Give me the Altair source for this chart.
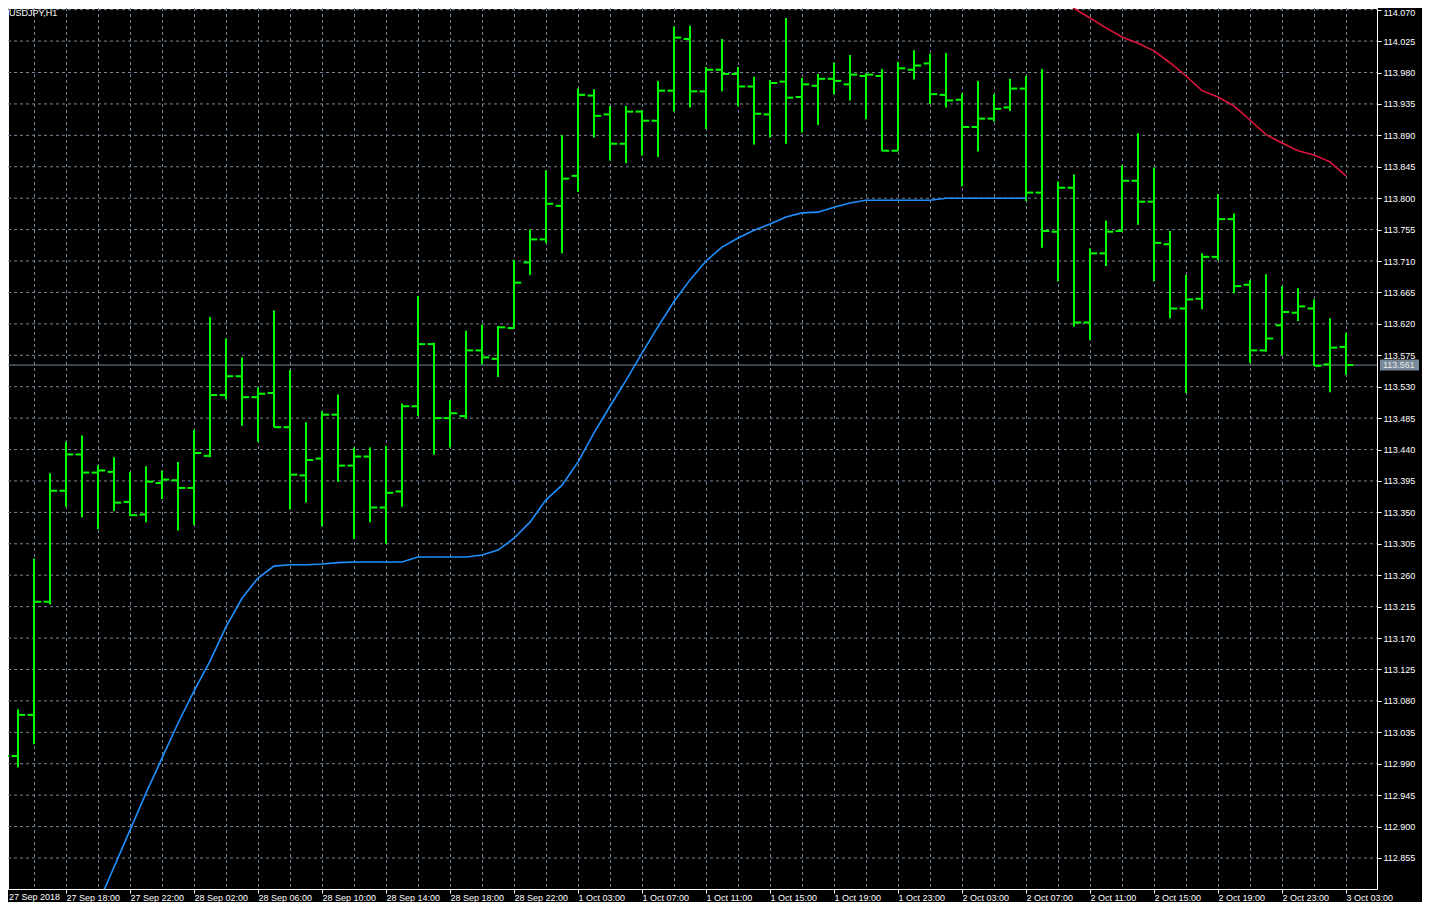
import altair as alt
import pandas as pd

# ---------------- data ----------------
bar_index = list(range(85))
opens = [112.995, 113.001, 113.060, 113.222, 113.381, 113.433, 113.407, 113.408, 113.365, 113.347,
         113.392, 113.396, 113.385, 113.431, 113.518, 113.545, 113.515, 113.521, 113.472, 113.403,
         113.427, 113.490, 113.417, 113.430, 113.357, 113.380, 113.502, 113.591, 113.485, 113.488,
         113.582, 113.570, 113.614, 113.708, 113.741, 113.789, 113.832, 113.947, 113.920, 113.878,
         113.924, 113.911, 113.954, 114.028, 113.953, 113.984, 113.978, 113.960, 113.920, 113.967,
         113.945, 113.961, 113.971, 113.963, 113.975, 113.975, 113.868, 113.984, 113.993, 113.948,
         113.941, 113.902, 113.914, 113.930, 113.957, 113.808, 113.752, 113.815, 113.622, 113.721,
         113.753, 113.825, 113.795, 113.734, 113.642, 113.656, 113.716, 113.770, 113.676, 113.582,
         113.618, 113.636, 113.642, 113.562, 113.587]
highs = [113.010, 113.068, 113.284, 113.406, 113.451, 113.460, 113.417, 113.429, 113.408, 113.416,
         113.410, 113.422, 113.468, 113.630, 113.599, 113.572, 113.529, 113.639, 113.554, 113.479,
         113.495, 113.519, 113.443, 113.443, 113.445, 113.506, 113.660, 113.593, 113.511, 113.610,
         113.619, 113.617, 113.712, 113.755, 113.840, 113.890, 113.957, 113.956, 113.932, 113.932,
         113.926, 113.968, 114.046, 114.047, 113.988, 114.028, 113.988, 113.974, 113.969, 114.058,
         113.972, 113.978, 113.994, 114.005, 113.979, 113.985, 113.995, 114.012, 114.007, 114.008,
         113.950, 113.968, 113.949, 113.971, 113.975, 113.985, 113.824, 113.834, 113.728, 113.768,
         113.847, 113.893, 113.844, 113.753, 113.690, 113.721, 113.806, 113.778, 113.683, 113.691,
         113.674, 113.671, 113.655, 113.628, 113.607]
lows = [112.985, 112.985, 113.018, 113.218, 113.358, 113.343, 113.326, 113.352, 113.345, 113.336,
        113.369, 113.324, 113.332, 113.429, 113.512, 113.474, 113.451, 113.472, 113.354, 113.364,
        113.330, 113.394, 113.312, 113.336, 113.305, 113.358, 113.488, 113.433, 113.443, 113.484,
        113.562, 113.544, 113.614, 113.690, 113.736, 113.721, 113.809, 113.887, 113.854, 113.850,
        113.861, 113.859, 113.924, 113.930, 113.899, 113.953, 113.932, 113.877, 113.887, 113.878,
        113.894, 113.905, 113.949, 113.940, 113.913, 113.868, 113.868, 113.970, 113.935, 113.930,
        113.817, 113.867, 113.910, 113.925, 113.796, 113.729, 113.681, 113.616, 113.597, 113.703,
        113.752, 113.762, 113.681, 113.628, 113.521, 113.641, 113.711, 113.664, 113.564, 113.580,
        113.575, 113.624, 113.560, 113.522, 113.547]
closes = [113.001, 113.060, 113.222, 113.381, 113.433, 113.407, 113.410, 113.364, 113.346, 113.394,
          113.397, 113.385, 113.435, 113.518, 113.545, 113.515, 113.520, 113.472, 113.404, 113.425,
          113.490, 113.417, 113.430, 113.357, 113.378, 113.502, 113.591, 113.485, 113.492, 113.582,
          113.572, 113.615, 113.679, 113.741, 113.792, 113.828, 113.948, 113.918, 113.878, 113.924,
          113.911, 113.954, 114.030, 113.953, 113.984, 113.978, 113.960, 113.921, 113.965, 113.944,
          113.963, 113.971, 113.968, 113.977, 113.977, 113.868, 113.986, 113.990, 113.949, 113.940,
          113.902, 113.914, 113.928, 113.957, 113.808, 113.753, 113.815, 113.622, 113.721, 113.752,
          113.825, 113.795, 113.736, 113.642, 113.655, 113.716, 113.770, 113.674, 113.582, 113.599,
          113.637, 113.645, 113.560, 113.586, 113.561]

blue_bars = list(range(6, 65))
blue_ma = [112.789, 112.842, 112.895, 112.948, 112.998, 113.048, 113.094, 113.137, 113.186, 113.227,
           113.256, 113.273, 113.275, 113.275, 113.276, 113.278, 113.279, 113.279, 113.279, 113.279,
           113.286, 113.286, 113.286, 113.286, 113.289, 113.296, 113.313, 113.336, 113.368, 113.389,
           113.422, 113.464, 113.502, 113.539, 113.578, 113.616, 113.652, 113.683, 113.710, 113.730,
           113.743, 113.754, 113.763, 113.773, 113.779, 113.780, 113.787, 113.793, 113.797, 113.797,
           113.797, 113.797, 113.797, 113.800, 113.800, 113.800, 113.800, 113.800, 113.800]

red_bars = list(range(66, 85))
red_ma = [114.087, 114.072, 114.058, 114.044, 114.031, 114.022, 114.011, 113.994, 113.975, 113.954,
          113.945, 113.932, 113.912, 113.891, 113.879, 113.868, 113.862, 113.852, 113.832]

price_ticks = [112.855, 112.900, 112.945, 112.990, 113.035, 113.080, 113.125, 113.170, 113.215,
               113.260, 113.305, 113.350, 113.395, 113.440, 113.485, 113.530, 113.575, 113.620,
               113.665, 113.710, 113.755, 113.800, 113.845, 113.890, 113.935, 113.980, 114.025,
               114.070]
grid_bars = list(range(2, 86, 2))
x_label_bars = list(range(0, 85, 4))
x_labels = ["27 Sep 2018", "27 Sep 18:00", "27 Sep 22:00", "28 Sep 02:00", "28 Sep 06:00",
            "28 Sep 10:00", "28 Sep 14:00", "28 Sep 18:00", "28 Sep 22:00", "1 Oct 03:00",
            "1 Oct 07:00", "1 Oct 11:00", "1 Oct 15:00", "1 Oct 19:00", "1 Oct 23:00",
            "2 Oct 03:00", "2 Oct 07:00", "2 Oct 11:00", "2 Oct 15:00", "2 Oct 19:00",
            "2 Oct 23:00", "3 Oct 03:00"]
last_price = [113.561]
symbol_title = ["USDJPY,H1"]

# ---------------- layout / style ----------------
W, H = 1369, 881
FONT = "Liberation Sans"
GREEN = "#00FF00"
GRID = "#778899"

ohlc = pd.DataFrame({"bar": bar_index, "open": opens, "high": highs, "low": lows, "close": closes})
blue_df = pd.DataFrame({"bar": blue_bars, "price": blue_ma})
red_df = pd.DataFrame({"bar": red_bars, "price": red_ma})
ticks_df = pd.DataFrame({"price": price_ticks})
vgrid_df = pd.DataFrame({"bar": grid_bars})
last_df = pd.DataFrame({"price": last_price, "label": [f"{p:.3f}" for p in last_price]})
title_df = pd.DataFrame({"t": symbol_title})
first_df = pd.DataFrame({"t": [x_labels[0]]})

xs = alt.Scale(domain=[0.375, 85.9375], nice=False, zero=False)
ys = alt.Scale(domain=[112.8106, 114.0724], nice=False, zero=False)

label_expr = "[" + ",".join("'%s'" % s for s in x_labels) + "][round(datum.value / 4)]"
x_axis = alt.Axis(values=x_label_bars[1:], labelExpr=label_expr, title=None, grid=False,
                  domain=False, tickColor="white", tickSize=4, labelColor="white",
                  labelFont=FONT, labelFontSize=9, labelAlign="left", labelPadding=0,
                  labelFlush=False, labelOverlap=False, labelBound=False)
top_tick = max(price_ticks)
y_axis = alt.Axis(orient="right", values=price_ticks, format=".3f", title=None, grid=False,
                  domain=False, tickColor="white", tickSize=4, labelColor="white",
                  labelFont=FONT, labelFontSize=9, labelPadding=2, labelFlush=False,
                  labelOverlap=False, labelBound=False,
                  labelOffset={"condition": {"test": f"datum.value > {top_tick - 0.01}", "value": 3},
                               "value": 0})


def X(f):
    return alt.X(f"{f}:Q", scale=xs, axis=x_axis)


def Y(f):
    return alt.Y(f"{f}:Q", scale=ys, axis=y_axis)


hgrid = alt.Chart(ticks_df).mark_rule(color=GRID, strokeDash=[3, 3], strokeWidth=1).encode(
    y=Y("price"), x=alt.value(0), x2=alt.value(W))
vgrid = alt.Chart(vgrid_df).mark_rule(color=GRID, strokeDash=[3, 3], strokeWidth=1,
                                      xOffset=0.5).encode(
    x=X("bar"), y=alt.value(0), y2=alt.value(H))
pline = alt.Chart(last_df).mark_rule(color=GRID, strokeWidth=1).encode(
    y=Y("price"), x=alt.value(0), x2=alt.value(W))

hl = alt.Chart(ohlc).mark_rule(color=GREEN, strokeWidth=2, clip=True).encode(
    x=X("bar"), y=Y("low"), y2="high")
op = alt.Chart(ohlc).transform_calculate(b0="datum.bar - 0.4").mark_rule(
    color=GREEN, strokeWidth=2, clip=True).encode(x=X("b0"), x2="bar", y=Y("open"))
cl = alt.Chart(ohlc).transform_calculate(b1="datum.bar + 0.45").mark_rule(
    color=GREEN, strokeWidth=2, clip=True).encode(x=X("bar"), x2="b1", y=Y("close"))

blue = alt.Chart(blue_df).mark_line(color="#1E90FF", strokeWidth=1.6, clip=True).encode(
    x=X("bar"), y=Y("price"))
red = alt.Chart(red_df).mark_line(color="#DC143C", strokeWidth=1.6, clip=True).encode(
    x=X("bar"), y=Y("price"))

pbox = alt.Chart(last_df).mark_tick(orient="horizontal", color=GRID, thickness=11, size=39,
                                    opacity=1).encode(
    y=Y("price"), x=alt.value(W + 22.5))
ptext = alt.Chart(last_df).mark_text(align="left", baseline="middle", color="#E8E8E8",
                                     font=FONT, fontSize=9).encode(
    y=Y("price"), x=alt.value(W + 6), text="label:N")
ttext = alt.Chart(title_df).mark_text(align="left", baseline="alphabetic", color="white",
                                      font=FONT, fontSize=9).encode(
    x=alt.value(1), y=alt.value(8), text="t:N")
ftext = alt.Chart(first_df).mark_text(align="left", baseline="top", color="white",
                                      font=FONT, fontSize=9).encode(
    x=alt.value(1), y=alt.value(H + 4), text="t:N")

chart = alt.layer(hgrid, vgrid, pline, hl, op, cl, blue, red, pbox, ptext, ttext, ftext).properties(
    width=W, height=H, background="black",
    autosize=alt.AutoSizeParams(type="none"),
    padding={"left": 0, "top": 0, "right": 45, "bottom": 13},
).configure_view(stroke="white", strokeWidth=1)

chart.save("out.html", embed_options={"renderer": "svg", "actions": False})
